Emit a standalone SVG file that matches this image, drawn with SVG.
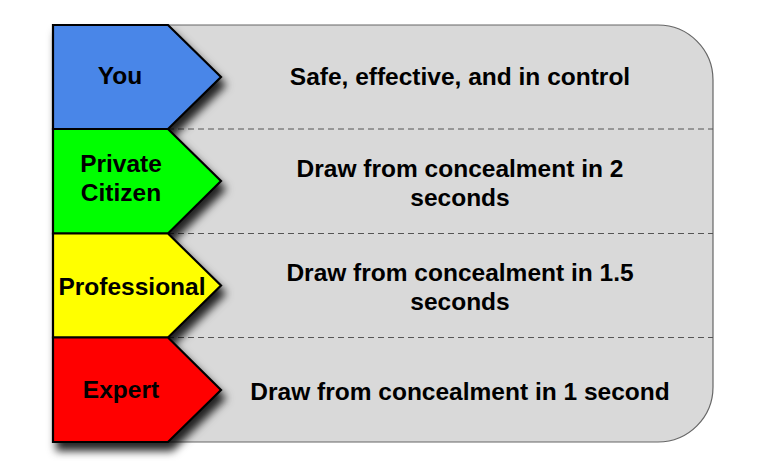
<svg xmlns="http://www.w3.org/2000/svg" width="768" height="467" viewBox="0 0 768 467">
<defs>
<filter id="sh" x="-20%" y="-20%" width="150%" height="150%">
<feDropShadow dx="4" dy="8" stdDeviation="4.5" flood-color="#000" flood-opacity="0.85"/>
</filter>
</defs>
<style>
.lbl{font-family:"Liberation Sans",Arial,sans-serif;font-weight:bold;font-size:24.5px;fill:#000;text-anchor:middle}
.txt{font-family:"Liberation Sans",Arial,sans-serif;font-weight:bold;font-size:24.5px;fill:#000;text-anchor:middle}
.shape{stroke:#000;stroke-width:2.2;stroke-linejoin:miter}
.dash{stroke:#555;stroke-width:1;stroke-dasharray:6 4;fill:none}
</style>
<g id="panel">
<path d="M55 25 H658 A55 55 0 0 1 713 80 V387 A55 55 0 0 1 658 442 H55 Z" fill="#d9d9d9" stroke="#666" stroke-width="1.2"/>
</g>
<g id="connectors">
<line class="dash" x1="168" y1="129" x2="713" y2="129"/>
<line class="dash" x1="168" y1="233.5" x2="713" y2="233.5"/>
<line class="dash" x1="168" y1="337.5" x2="713" y2="337.5"/>
</g>
<g filter="url(#sh)">
<g id="you"><path class="shape" d="M53 25 H168 L221 77 L168 129 H53 Z" fill="#4a86e8"/></g>
<g id="private"><path class="shape" d="M53 129 H168 L221 181 L168 233.5 H53 Z" fill="#00ff00"/></g>
<g id="professional"><path class="shape" d="M53 233.5 H168 L221 285.5 L168 337.5 H53 Z" fill="#ffff00"/></g>
<g id="expert"><path class="shape" d="M53 337.5 H168 L221 390 L168 442 H53 Z" fill="#ff0000"/></g>
</g>
<g id="labels">
<text class="lbl" x="120" y="84">You</text>
<text class="lbl" x="121" y="172">Private</text>
<text class="lbl" x="121" y="201">Citizen</text>
<text class="lbl" x="132" y="295">Professional</text>
<text class="lbl" x="121" y="398">Expert</text>
</g>
<g id="descriptions">
<text class="txt" x="460" y="84.5">Safe, effective, and in control</text>
<text class="txt" x="460" y="177">Draw from concealment in 2</text>
<text class="txt" x="460" y="205.5">seconds</text>
<text class="txt" x="460" y="281">Draw from concealment in 1.5</text>
<text class="txt" x="460" y="310">seconds</text>
<text class="txt" x="460" y="400">Draw from concealment in 1 second</text>
</g>
</svg>
